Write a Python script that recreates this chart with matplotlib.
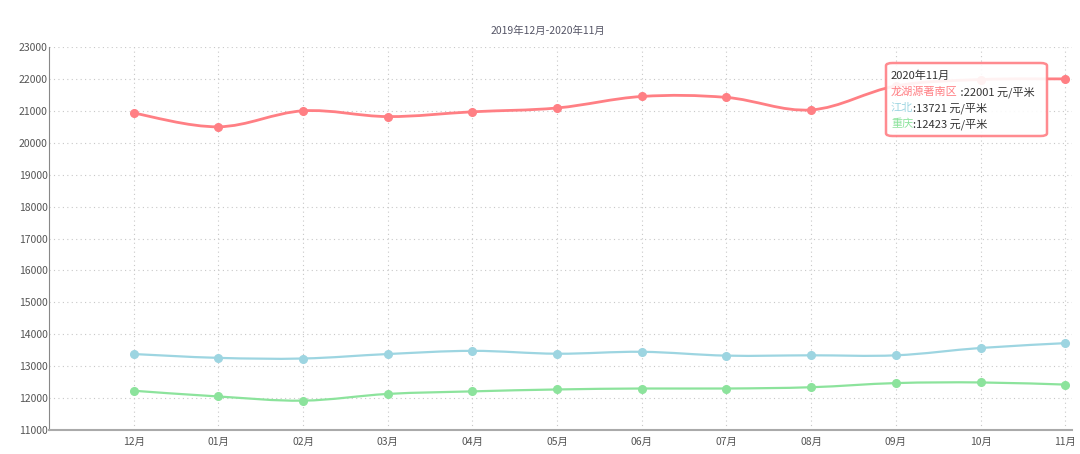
import matplotlib
matplotlib.use("Agg")
import matplotlib.pyplot as plt
import numpy as np
from matplotlib.path import Path
from matplotlib.patches import PathPatch, FancyBboxPatch
from matplotlib.text import Annotation

plt.rcParams['font.family'] = ['Noto Sans CJK SC', 'DejaVu Sans']

title = "2019年12月-2020年11月"
months = ["12月", "01月", "02月", "03月", "04月", "05月", "06月", "07月", "08月", "09月", "10月", "11月"]
series_names = ["龙湖源著南区", "江北", "重庆"]
longhu = [20930, 20500, 21000, 20820, 20970, 21090, 21450, 21420, 21030, 21780, 21980, 22001]
jiangbei = [13380, 13260, 13240, 13380, 13480, 13390, 13450, 13330, 13340, 13340, 13570, 13721]
chongqing = [12230, 12050, 11920, 12130, 12210, 12270, 12300, 12300, 12340, 12470, 12490, 12423]
colors = ["#ff7f84", "#9dd5e1", "#8ce39c"]
yticks = list(range(11000, 23001, 1000))

fig = plt.figure(figsize=(10.8, 4.54), dpi=100)
ax = fig.add_axes([49/1080, 1-430/454, (1072-49)/1080, (430-47)/454])

x = np.arange(len(months))

def smooth_path(xs, ys, s=0.35):
    xs = np.asarray(xs, float); ys = np.asarray(ys, float)
    n = len(xs)
    verts = [(xs[0], ys[0])]
    codes = [Path.MOVETO]
    for i in range(n - 1):
        p0 = np.array([xs[max(i-1, 0)], ys[max(i-1, 0)]])
        p1 = np.array([xs[i], ys[i]])
        p2 = np.array([xs[i+1], ys[i+1]])
        p3 = np.array([xs[min(i+2, n-1)], ys[min(i+2, n-1)]])
        c1 = p1 + (p2 - p0) * s / 2
        c2 = p2 - (p3 - p1) * s / 2
        verts += [tuple(c1), tuple(c2), tuple(p2)]
        codes += [Path.CURVE4] * 3
    return Path(verts, codes)

for vals, c, lw in zip([longhu, jiangbei, chongqing], colors, [2.0, 1.6, 1.6]):
    ax.add_patch(PathPatch(smooth_path(x, vals), facecolor='none', edgecolor=c, lw=lw, zorder=3))
    ax.plot(x, vals, 'o', color=c, markersize=5.5, zorder=4)

ax.set_xlim(-1, 11.08)
ax.set_ylim(11000, 23000)
ax.set_xticks(x)
ax.set_xticklabels(months)
ax.set_yticks(yticks)
ax.tick_params(axis='both', labelsize=7.5, colors='#555555', length=0, pad=5)
ax.tick_params(axis='y', pad=1)
ax.grid(True, linestyle=(0, (1, 3)), color='#c8c8c8', lw=0.8)
for sp in ['top', 'right']:
    ax.spines[sp].set_visible(False)
ax.spines['left'].set_color('#888888')
ax.spines['bottom'].set_color('#aaaaaa')
ax.spines['bottom'].set_linewidth(1.5)

fig.text(548/1080, 1-31/454, title, ha='center', va='center', fontsize=7.5, color='#555566')

# tooltip
box = FancyBboxPatch((886/1080, 1-136/454), (1047-886)/1080, (136-63)/454,
                     transform=fig.transFigure, boxstyle='round,pad=0,rounding_size=0.006',
                     facecolor='white', alpha=0.9, edgecolor='#ff7f84', lw=1.8, zorder=10)
fig.add_artist(box)
fig.text(891/1080, 1-76/454, "2020年11月", ha='left', va='center', fontsize=8, color='#333333', zorder=11)
rows = [("龙湖源著南区", " :22001 元/平米", colors[0], 92),
        ("江北", ":13721 元/平米", colors[1], 108),
        ("重庆", ":12423 元/平米", colors[2], 124)]
for name, rest, c, yy in rows:
    t = fig.text(891/1080, 1-yy/454, name, ha='left', va='center', fontsize=8, color=c, zorder=11)
    a = Annotation(rest, xy=(1, 0.5), xycoords=t, ha='left', va='center', fontsize=8,
                   color='#333333', annotation_clip=False, zorder=11)
    fig.add_artist(a)

fig.savefig("out.png", dpi=100)
